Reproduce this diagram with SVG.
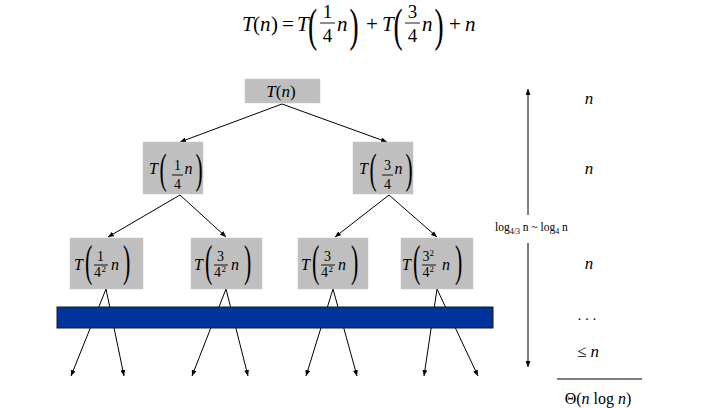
<svg xmlns="http://www.w3.org/2000/svg" width="720" height="408" viewBox="0 0 720 408">
<style>
text{font-family:"Liberation Serif","Times New Roman",serif;fill:#000}
.i{font-style:italic}
.box{fill:#bfbfbf;stroke:#c8c8c8;stroke-width:0.5}
.ln{stroke:#000;stroke-width:1;fill:none}
.bar{stroke:#000;stroke-width:0.9}
.f16{font-size:16px}
.f17{font-size:17px}
.f14{font-size:14px}
.f9{font-size:9px}
.t{font-size:21px}
.td{font-size:19px}
</style>
<defs>
<marker id="ah" markerWidth="6" markerHeight="5" refX="6" refY="2.5" orient="auto" markerUnits="userSpaceOnUse"><path d="M0,0 L6,2.5 L0,5 z" fill="#000"/></marker>
</defs>
<rect width="720" height="408" fill="#fff"/>

<!-- title -->
<g id="title">
<text x="242" y="31" class="t i">T</text>
<text x="253" y="31" class="t">(</text>
<text x="260" y="31" class="t i">n</text>
<text x="271" y="31" class="t">)</text>
<text x="288" y="31" class="t" text-anchor="middle">=</text>
<text x="297" y="31" class="t i">T</text>
<text transform="translate(308,40.9) scale(0.6,1)" font-size="45.7">(</text>
<text x="327.5" y="18" class="td" text-anchor="middle">1</text>
<line x1="320" y1="23" x2="335" y2="23" class="bar"/>
<text x="327.5" y="42" class="td" text-anchor="middle">4</text>
<text x="337" y="31" class="t i">n</text>
<text transform="translate(349.5,40.9) scale(0.6,1)" font-size="45.7">)</text>
<text x="372" y="31" class="t" text-anchor="middle">+</text>
<text x="382" y="31" class="t i">T</text>
<text transform="translate(393.5,40.9) scale(0.6,1)" font-size="45.7">(</text>
<text x="412.5" y="18" class="td" text-anchor="middle">3</text>
<line x1="405" y1="23" x2="420" y2="23" class="bar"/>
<text x="412.5" y="42" class="td" text-anchor="middle">4</text>
<text x="422" y="31" class="t i">n</text>
<text transform="translate(434.5,40.9) scale(0.6,1)" font-size="45.7">)</text>
<text x="455" y="31" class="t" text-anchor="middle">+</text>
<text x="465" y="31" class="t i">n</text>
</g>

<!-- connectors -->
<g id="connectors" class="ln">
<line x1="282" y1="104" x2="180" y2="142" marker-end="url(#ah)"/>
<line x1="282" y1="104" x2="387" y2="142" marker-end="url(#ah)"/>
<line x1="180" y1="195" x2="108" y2="237" marker-end="url(#ah)"/>
<line x1="180" y1="195" x2="226" y2="237" marker-end="url(#ah)"/>
<line x1="389" y1="195" x2="335" y2="237" marker-end="url(#ah)"/>
<line x1="389" y1="195" x2="437" y2="237" marker-end="url(#ah)"/>
<line x1="106" y1="289" x2="71" y2="376" marker-end="url(#ah)"/>
<line x1="106" y1="289" x2="124" y2="376" marker-end="url(#ah)"/>
<line x1="226" y1="289" x2="192" y2="376" marker-end="url(#ah)"/>
<line x1="226" y1="289" x2="248" y2="376" marker-end="url(#ah)"/>
<line x1="333" y1="289" x2="306" y2="376" marker-end="url(#ah)"/>
<line x1="333" y1="289" x2="357" y2="376" marker-end="url(#ah)"/>
<line x1="437" y1="289" x2="424" y2="376" marker-end="url(#ah)"/>
<line x1="437" y1="289" x2="478" y2="376" marker-end="url(#ah)"/>
<line x1="528" y1="215" x2="528" y2="89" marker-end="url(#ah)"/>
<line x1="528" y1="243" x2="528" y2="367" marker-end="url(#ah)"/>
</g>

<!-- blue bar -->
<rect id="band" x="57" y="307" width="436" height="21" fill="#003399" stroke="#1a1a1a" stroke-width="1"/>

<!-- nodes -->
<g id="n-root">
<rect class="box" x="245" y="79" width="75" height="24"/>
<text x="281" y="97" class="f17" text-anchor="middle"><tspan class="i">T</tspan>(<tspan class="i">n</tspan>)</text>
</g>

<g id="n-l1a">
<rect class="box" x="143" y="142" width="60" height="52"/>
<g transform="translate(149,174)">
<text x="0" y="0" class="f16 i">T</text>
<text transform="translate(10.5,9.4) scale(0.5,1)" font-size="43">(</text>
<text x="28.5" y="-4" class="f14" text-anchor="middle">1</text>
<line x1="23" y1="1" x2="34" y2="1" class="bar"/>
<text x="28.5" y="15" class="f14" text-anchor="middle">4</text>
<text x="35.5" y="0" class="f16 i">n</text>
<text transform="translate(46.5,9.4) scale(0.5,1)" font-size="43">)</text>
</g>
</g>

<g id="n-l1b">
<rect class="box" x="353" y="142" width="60" height="52"/>
<g transform="translate(359,174)">
<text x="0" y="0" class="f16 i">T</text>
<text transform="translate(10.5,9.4) scale(0.5,1)" font-size="43">(</text>
<text x="28.5" y="-4" class="f14" text-anchor="middle">3</text>
<line x1="23" y1="1" x2="34" y2="1" class="bar"/>
<text x="28.5" y="15" class="f14" text-anchor="middle">4</text>
<text x="35.5" y="0" class="f16 i">n</text>
<text transform="translate(46.5,9.4) scale(0.5,1)" font-size="43">)</text>
</g>
</g>

<g id="n-l2a">
<rect class="box" x="70" y="238" width="73" height="51"/>
<g transform="translate(74,270)">
<text x="0" y="0" class="f16 i">T</text>
<text transform="translate(11,6.2) scale(0.5,1)" font-size="44">(</text>
<text x="26.5" y="-9" class="f14" text-anchor="middle">1</text>
<line x1="20" y1="-5" x2="34" y2="-5" class="bar"/>
<text x="20" y="7" class="f14">4</text>
<text x="27.5" y="2" class="f9">2</text>
<text x="37" y="0" class="f16 i">n</text>
<text transform="translate(49,6.2) scale(0.5,1)" font-size="44">)</text>
</g>
</g>

<g id="n-l2b">
<rect class="box" x="191" y="238" width="71" height="51"/>
<g transform="translate(194,270)">
<text x="0" y="0" class="f16 i">T</text>
<text transform="translate(11,6.2) scale(0.5,1)" font-size="44">(</text>
<text x="26.5" y="-9" class="f14" text-anchor="middle">3</text>
<line x1="20" y1="-5" x2="34" y2="-5" class="bar"/>
<text x="20" y="7" class="f14">4</text>
<text x="27.5" y="2" class="f9">2</text>
<text x="37" y="0" class="f16 i">n</text>
<text transform="translate(50,6.2) scale(0.5,1)" font-size="44">)</text>
</g>
</g>

<g id="n-l2c">
<rect class="box" x="298" y="238" width="70" height="51"/>
<g transform="translate(301,270)">
<text x="0" y="0" class="f16 i">T</text>
<text transform="translate(11,6.2) scale(0.5,1)" font-size="44">(</text>
<text x="26.5" y="-9" class="f14" text-anchor="middle">3</text>
<line x1="20" y1="-5" x2="34" y2="-5" class="bar"/>
<text x="20" y="7" class="f14">4</text>
<text x="27.5" y="2" class="f9">2</text>
<text x="37" y="0" class="f16 i">n</text>
<text transform="translate(50,6.2) scale(0.5,1)" font-size="44">)</text>
</g>
</g>

<g id="n-l2d">
<rect class="box" x="401" y="238" width="72" height="51"/>
<g transform="translate(402,270)">
<text x="0" y="0" class="f16 i">T</text>
<text transform="translate(11,6.2) scale(0.5,1)" font-size="44">(</text>
<text x="20.5" y="-9" class="f14">3</text>
<text x="27.5" y="-14" class="f9">2</text>
<line x1="20" y1="-5" x2="34" y2="-5" class="bar"/>
<text x="20.5" y="7" class="f14">4</text>
<text x="27.5" y="2" class="f9">2</text>
<text x="40" y="0" class="f16 i">n</text>
<text transform="translate(53,6.2) scale(0.5,1)" font-size="44">)</text>
</g>
</g>

<!-- right column -->
<g id="height-label">
<text x="495" y="231" font-size="11.5">log<tspan font-size="8" dy="3">4/3</tspan><tspan dy="-3"> n ~ log</tspan><tspan font-size="8" dy="3">4</tspan><tspan dy="-3"> n</tspan></text>
</g>
<g id="costs">
<text x="589" y="104" class="f17 i" text-anchor="middle">n</text>
<text x="589" y="174" class="f17 i" text-anchor="middle">n</text>
<text x="589" y="269" class="f17 i" text-anchor="middle">n</text>
<text x="589" y="320" font-size="14" text-anchor="middle" letter-spacing="4">...</text>
<text x="588" y="357" font-size="17" text-anchor="middle">≤ <tspan class="i">n</tspan></text>
<line x1="557" y1="379" x2="642" y2="379" class="ln"/>
<text x="598" y="404" font-size="16" text-anchor="middle">Θ(<tspan class="i">n</tspan> log <tspan class="i">n</tspan>)</text>
</g>
</svg>
